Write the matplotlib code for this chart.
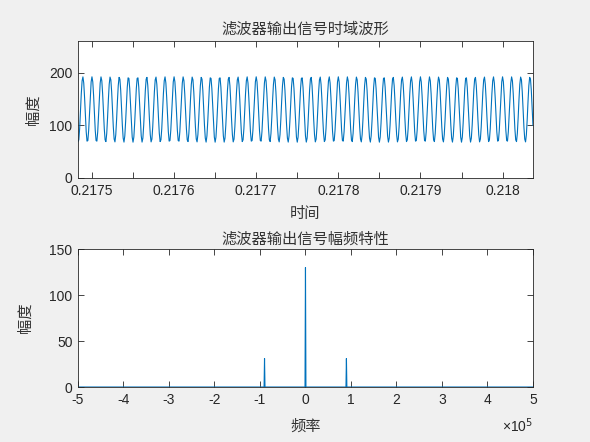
import numpy as np
import matplotlib
matplotlib.use("Agg")
import matplotlib.pyplot as plt

plt.rcParams['font.family'] = ['Liberation Sans', 'Noto Sans CJK SC']

# time-domain signal parameters
fs = 1e6          # sample rate [Hz]
f0 = 9e4          # tone frequency [Hz]
dc = 130          # offset
amp = 62          # amplitude
t_start = 0.217483
t_end = 0.218037

# spectrum: spike positions/heights
spec_f = [-5e5, -9.1e4, -9e4, -8.9e4, -1e3, 0, 1e3, 8.9e4, 9e4, 9.1e4, 5e5]
spec_a = [0, 0, 31, 0, 0, 130, 0, 0, 31, 0, 0]

t_ticks = [0.2175, 0.21755, 0.2176, 0.21765, 0.2177, 0.21775, 0.2178,
           0.21785, 0.2179, 0.21795, 0.218]
t_labels = ['0.2175', '', '0.2176', '', '0.2177', '', '0.2178', '',
            '0.2179', '', '0.218']
f_ticks = np.arange(-5, 6) * 1e5
f_labels = [str(v) for v in range(-5, 6)]

n = np.arange(int(np.floor(t_start * fs)), int(np.ceil(t_end * fs)) + 1)
t = n / fs
y = dc + amp * np.cos(2 * np.pi * f0 * t)

line_c = '#0072BD'
axc = '#262626'
txc = '#333333'
fig = plt.figure(figsize=(5.9, 4.42), dpi=100, facecolor='#f0f0f0')

ax1 = fig.add_axes([0.1322, 0.5973, 0.7711, 0.310])
ax1.plot(t, y, color=line_c, lw=0.8)
ax1.set_xlim(t_start, t_end)
ax1.set_ylim(0, 260)
ax1.set_yticks([0, 100, 200])
ax1.set_xticks(t_ticks)
ax1.set_xticklabels(t_labels)
ax1.set_title('滤波器输出信号时域波形', fontsize=11, color=txc, pad=5)
ax1.set_xlabel('时间', fontsize=11, color=txc, labelpad=7)
ax1.set_ylabel('幅度', fontsize=11, color=txc, labelpad=6)

ax2 = fig.add_axes([0.1322, 0.1244, 0.7711, 0.312])
ax2.plot(spec_f, spec_a, color=line_c, lw=0.8)
ax2.set_xlim(-5e5, 5e5)
ax2.set_ylim(0, 150)
ax2.set_yticks([0, 50, 100, 150])
ax2.set_xticks(f_ticks)
ax2.set_xticklabels(f_labels)
ax2.set_title('滤波器输出信号幅频特性', fontsize=11, color=txc, pad=4)
ax2.set_xlabel('频率', fontsize=11, color=txc, labelpad=9)
ax2.set_ylabel('幅度', fontsize=11, color=txc, labelpad=12)
ax2.text(1.0, -0.28, '×10$^5$', transform=ax2.transAxes, ha='right', va='center',
         fontsize=10, color=axc)

for ax in (ax1, ax2):
    ax.set_facecolor('white')
    ax.tick_params(direction='in', top=True, right=True, length=4, width=0.6,
                   labelsize=10, colors=axc, pad=4)
    for s in ax.spines.values():
        s.set_color(axc)
        s.set_linewidth(0.6)

fig.savefig('out.png', dpi=100, facecolor=fig.get_facecolor())
